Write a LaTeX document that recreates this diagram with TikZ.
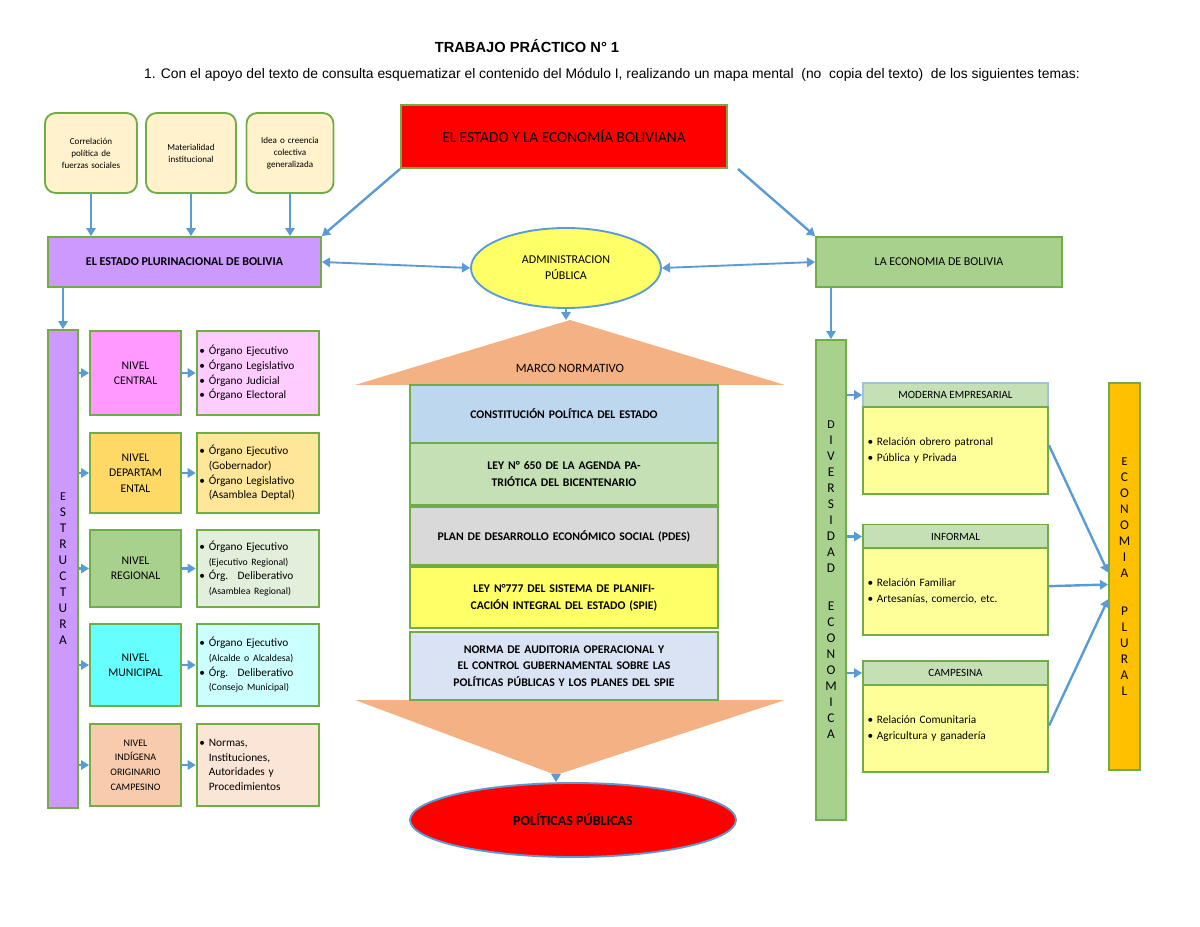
\documentclass[tikz,border=0pt]{standalone}
\usepackage{fontspec}
\setmainfont{Carlito}
\newfontfamily\arialf{Liberation Sans}
\usetikzlibrary{calc,positioning,shapes.geometric,arrows.meta}
\definecolor{gborde}{HTML}{70AD47}
\definecolor{flecha}{HTML}{5B9BD5}
\definecolor{salmon}{HTML}{F4B183}
\tikzset{
  bx/.style={draw=gborde, line width=1.4pt, inner sep=2pt, align=center},
  arr/.style={draw=flecha, line width=1.8pt, -{Triangle[length=6pt,width=7pt]}},
  dbl/.style={draw=flecha, line width=1.4pt, {Triangle[length=6pt,width=7pt]}-{Triangle[length=6pt,width=7pt]}},
  lst/.style={bx, align=left, text width=88pt, font=\fontsize{8.5}{11}\selectfont},
}
\newcommand{\vl}[1]{\fontsize{9}{16.5}\selectfont #1}
\begin{document}
\begin{tikzpicture}[x=0.75pt,y=-0.75pt]
  \useasboundingbox (0,0) rectangle (1200,927);
  % titulo
  \node (tit) at (527,46) {\arialf\bfseries\fontsize{11}{13}\selectfont TRABAJO PRÁCTICO N° 1};
  \node (sub) at (612,75) {\arialf\fontsize{10.4}{12}\selectfont 1. Con el apoyo del texto de consulta esquematizar el contenido del Módulo I, realizando un mapa mental~ (no~ copia del texto)~ de los siguientes temas:};

  % cajas superiores
  \tikzset{top/.style={bx, rounded corners=8pt, fill={rgb,255:red,255;green,242;blue,204}, minimum height=60pt, font=\fontsize{6.8}{9}\selectfont}}
  \node[top, minimum width=69pt, text width=50pt] (t1) at (91,153) {Correlación política de fuerzas sociales};
  \node[top, minimum width=67.5pt, text width=50pt] (t2) at (191,153) {Materialidad institucional};
  \node[top, minimum width=65.25pt, text width=45pt] (t3) at (290,153) {Idea o creencia colectiva generalizada};

  \node[bx, fill=red, minimum width=244.5pt, minimum height=47.25pt, font=\fontsize{11.5}{13}\selectfont] (eco) at (564,136.5) {EL ESTADO Y LA ECONOMÍA BOLIVIANA};
  \node[bx, fill={rgb,255:red,204;green,153;blue,255}, minimum width=204.75pt, minimum height=37.5pt, font=\bfseries\fontsize{9}{11}\selectfont] (est) at (184.5,262) {EL ESTADO PLURINACIONAL DE BOLIVIA};
  \node[bx, fill={rgb,255:red,169;green,209;blue,142}, minimum width=184.5pt, minimum height=37.5pt, font=\fontsize{9}{11}\selectfont] (ecb) at (939,262) {LA ECONOMIA DE BOLIVIA};
  \node[ellipse, draw=flecha, line width=1.4pt, fill={rgb,255:red,255;green,255;blue,102}, minimum width=142.5pt, minimum height=60pt, align=center, font=\fontsize{9}{12}\selectfont] (adm) at (566,268) {ADMINISTRACION\\PÚBLICA};

  \draw[arr] (t1.south) -- (t1.south |- est.north);
  \draw[arr] (t2.south) -- (t2.south |- est.north);
  \draw[arr] (t3.south) -- (t3.south |- est.north);
  \draw[arr] (eco.south west) -- (est.north east);
  \draw[arr] ($(eco.south east)+(10,0)$) -- (ecb.north west);
  \draw[dbl] (est.east) -- (adm.west);
  \draw[dbl] (adm.east) -- (ecb.west);

  % estructura
  \node[bx, fill={rgb,255:red,204;green,153;blue,255}, minimum width=22.5pt, minimum height=358.5pt] (estr) at (63,569) {\vl{E\\S\\T\\R\\U\\C\\T\\U\\R\\A}};
  \draw[arr] (est.south -| estr) -- (estr.north);
  \tikzset{lvl/.style={bx, minimum width=68.25pt, text width=62pt, font=\fontsize{8.8}{11.5}\selectfont}}
  \node[lvl, fill={rgb,255:red,255;green,153;blue,255}, minimum height=63pt] (n1) at (135.5,373) {NIVEL\\CENTRAL};
  \node[lvl, fill={rgb,255:red,255;green,217;blue,102}, minimum height=60pt] (n2) at (135.5,473) {NIVEL\\DEPARTAM\\ENTAL};
  \node[lvl, fill={rgb,255:red,169;green,209;blue,142}, minimum height=57.75pt] (n3) at (135.5,568.5) {NIVEL\\REGIONAL};
  \node[lvl, fill={rgb,255:red,102;green,255;blue,255}, minimum height=61.5pt] (n4) at (135.5,665) {NIVEL\\MUNICIPAL};
  \node[lvl, fill={rgb,255:red,248;green,203;blue,173}, minimum height=61.5pt, font=\fontsize{7.5}{11}\selectfont] (n5) at (135.5,765) {NIVEL\\INDÍGENA\\ORIGINARIO\\CAMPESINO};
  \newcommand{\sm}[1]{{\fontsize{7.3}{11}\selectfont #1}}
  \node[lst, fill={rgb,255:red,255;green,204;blue,255}, minimum height=63pt] (d1) at (258,373) {\textbullet~Órgano Ejecutivo\\\textbullet~Órgano Legislativo\\\textbullet~Órgano Judicial\\\textbullet~Órgano Electoral};
  \node[lst, fill={rgb,255:red,255;green,230;blue,153}, minimum height=60pt] (d2) at (258,473) {\textbullet~Órgano Ejecutivo\\\phantom{\textbullet}~(Gobernador)\\\textbullet~Órgano Legislativo\\\phantom{\textbullet}~(Asamblea Deptal)};
  \node[lst, fill={rgb,255:red,226;green,239;blue,218}, minimum height=57.75pt] (d3) at (258,568.5) {\textbullet~Órgano Ejecutivo\\\phantom{\textbullet}~\sm{(Ejecutivo Regional)}\\\textbullet~Órg.~ Deliberativo\\\phantom{\textbullet}~\sm{(Asamblea Regional)}};
  \node[lst, fill={rgb,255:red,204;green,255;blue,255}, minimum height=61.5pt] (d4) at (258,665) {\textbullet~Órgano Ejecutivo\\\phantom{\textbullet}~\sm{(Alcalde o Alcaldesa)}\\\textbullet~Órg.~ Deliberativo\\\phantom{\textbullet}~\sm{(Consejo Municipal)}};
  \node[lst, fill={rgb,255:red,251;green,229;blue,214}, minimum height=61.5pt] (d5) at (258,765) {\textbullet~Normas,\\\phantom{\textbullet}~Instituciones,\\\phantom{\textbullet}~Autoridades y\\\phantom{\textbullet}~Procedimientos};
  \foreach \i in {1,...,5}{
    \draw[arr] (estr.east |- n\i.west) -- (n\i.west);
    \draw[arr] (n\i.east) -- (d\i.west);
  }

  % marco normativo
  \coordinate (mA) at (570,320);
  \coordinate (mB) at (556,775);
  \fill[salmon] (mA) -- (785,385) -- (355,385) -- cycle;
  \fill[salmon] (355,700) -- (785,700) -- (mB) -- cycle;
  \node[font=\fontsize{9.5}{11}\selectfont] (mar) at (570,368) {MARCO NORMATIVO};
  \tikzset{ley/.style={bx, minimum width=231pt, text width=220pt, font=\bfseries\fontsize{8.8}{12.5}\selectfont}}
  \node[ley, fill={rgb,255:red,189;green,215;blue,238}, minimum height=43.5pt] (l1) at (564,414) {CONSTITUCIÓN POLÍTICA DEL ESTADO};
  \node[ley, fill={rgb,255:red,197;green,224;blue,180}, minimum height=46.5pt] (l2) at (564,474) {LEY N° 650 DE LA AGENDA PATRIÓTICA DEL BICENTENARIO};
  \node[ley, fill={rgb,255:red,217;green,217;blue,217}, minimum height=43.5pt] (l3) at (564,536) {PLAN DE DESARROLLO ECONÓMICO SOCIAL (PDES)};
  \node[ley, fill={rgb,255:red,255;green,255;blue,102}, minimum height=45.75pt] (l4) at (564,597.5) {LEY N°777 DEL SISTEMA DE PLANIFICACIÓN INTEGRAL DEL ESTADO (SPIE)};
  \node[ley, fill={rgb,255:red,218;green,227;blue,243}, minimum height=51pt] (l5) at (564,666) {NORMA DE AUDITORIA OPERACIONAL Y EL CONTROL GUBERNAMENTAL SOBRE LAS POLÍTICAS PÚBLICAS Y LOS PLANES DEL SPIE};
  \node[ellipse, draw=flecha, line width=1.4pt, fill=red, minimum width=244.5pt, minimum height=55.5pt, font=\bfseries\fontsize{10.5}{12}\selectfont] (pol) at (573,820) {POLÍTICAS PÚBLICAS};
  \draw[arr] (adm.south) -- (adm.south |- mA);
  \draw[arr] (mB) -- (mB |- pol.north);

  % economia plural
  \node[bx, fill={rgb,255:red,169;green,209;blue,142}, minimum width=22.5pt, minimum height=360pt] (div) at (831,580) {\vl{D\\I\\V\\E\\R\\S\\I\\D\\A\\D\\[16.5pt]E\\C\\O\\N\\O\\M\\I\\C\\A}};
  \draw[arr] (div.north |- ecb.south) -- (div.north);
  \tikzset{hd/.style={bx, fill={rgb,255:red,197;green,224;blue,180}, minimum width=138.75pt, minimum height=18pt, inner sep=0pt, font=\fontsize{8.3}{10}\selectfont},
           bd/.style={bx, fill={rgb,255:red,255;green,255;blue,153}, minimum width=138.75pt, minimum height=65.25pt, text width=132pt, align=left, font=\fontsize{8.5}{12}\selectfont}}
  \node[hd, draw={rgb,255:red,157;green,195;blue,230}] (h1) at (955.5,395) {MODERNA EMPRESARIAL};
  \node[bd] (b1) at (955.5,450.5) {\textbullet~Relación obrero patronal\\\textbullet~Pública y Privada\\[12pt]};
  \node[hd] (h2) at (955.5,536.5) {INFORMAL};
  \node[bd] (b2) at (955.5,591.5) {\textbullet~Relación Familiar\\\textbullet~Artesanías, comercio, etc.\\[12pt]};
  \node[hd] (h3) at (955.5,673) {CAMPESINA};
  \node[bd] (b3) at (955.5,728.5) {\textbullet~Relación Comunitaria\\\textbullet~Agricultura y ganadería\\[12pt]};
  \node[bx, fill={rgb,255:red,255;green,192;blue,0}, minimum width=23.25pt, minimum height=290.25pt] (plu) at (1124.5,576.5) {\vl{E\\C\\O\\N\\O\\M\\I\\A\\[16.5pt]P\\L\\U\\R\\A\\L}};
  \foreach \i in {1,2,3}
    \draw[arr] (div.east |- h\i) -- (h\i.west);
  \draw[arr] ([yshift=4pt]b1.east) -- ([yshift=3pt]plu.west);
  \draw[arr] ([yshift=4pt]b2.east) -- ([yshift=-6pt]plu.west);
  \draw[arr] ([yshift=2pt]b3.east) -- ([yshift=-17pt]plu.west);
\end{tikzpicture}
\end{document}
